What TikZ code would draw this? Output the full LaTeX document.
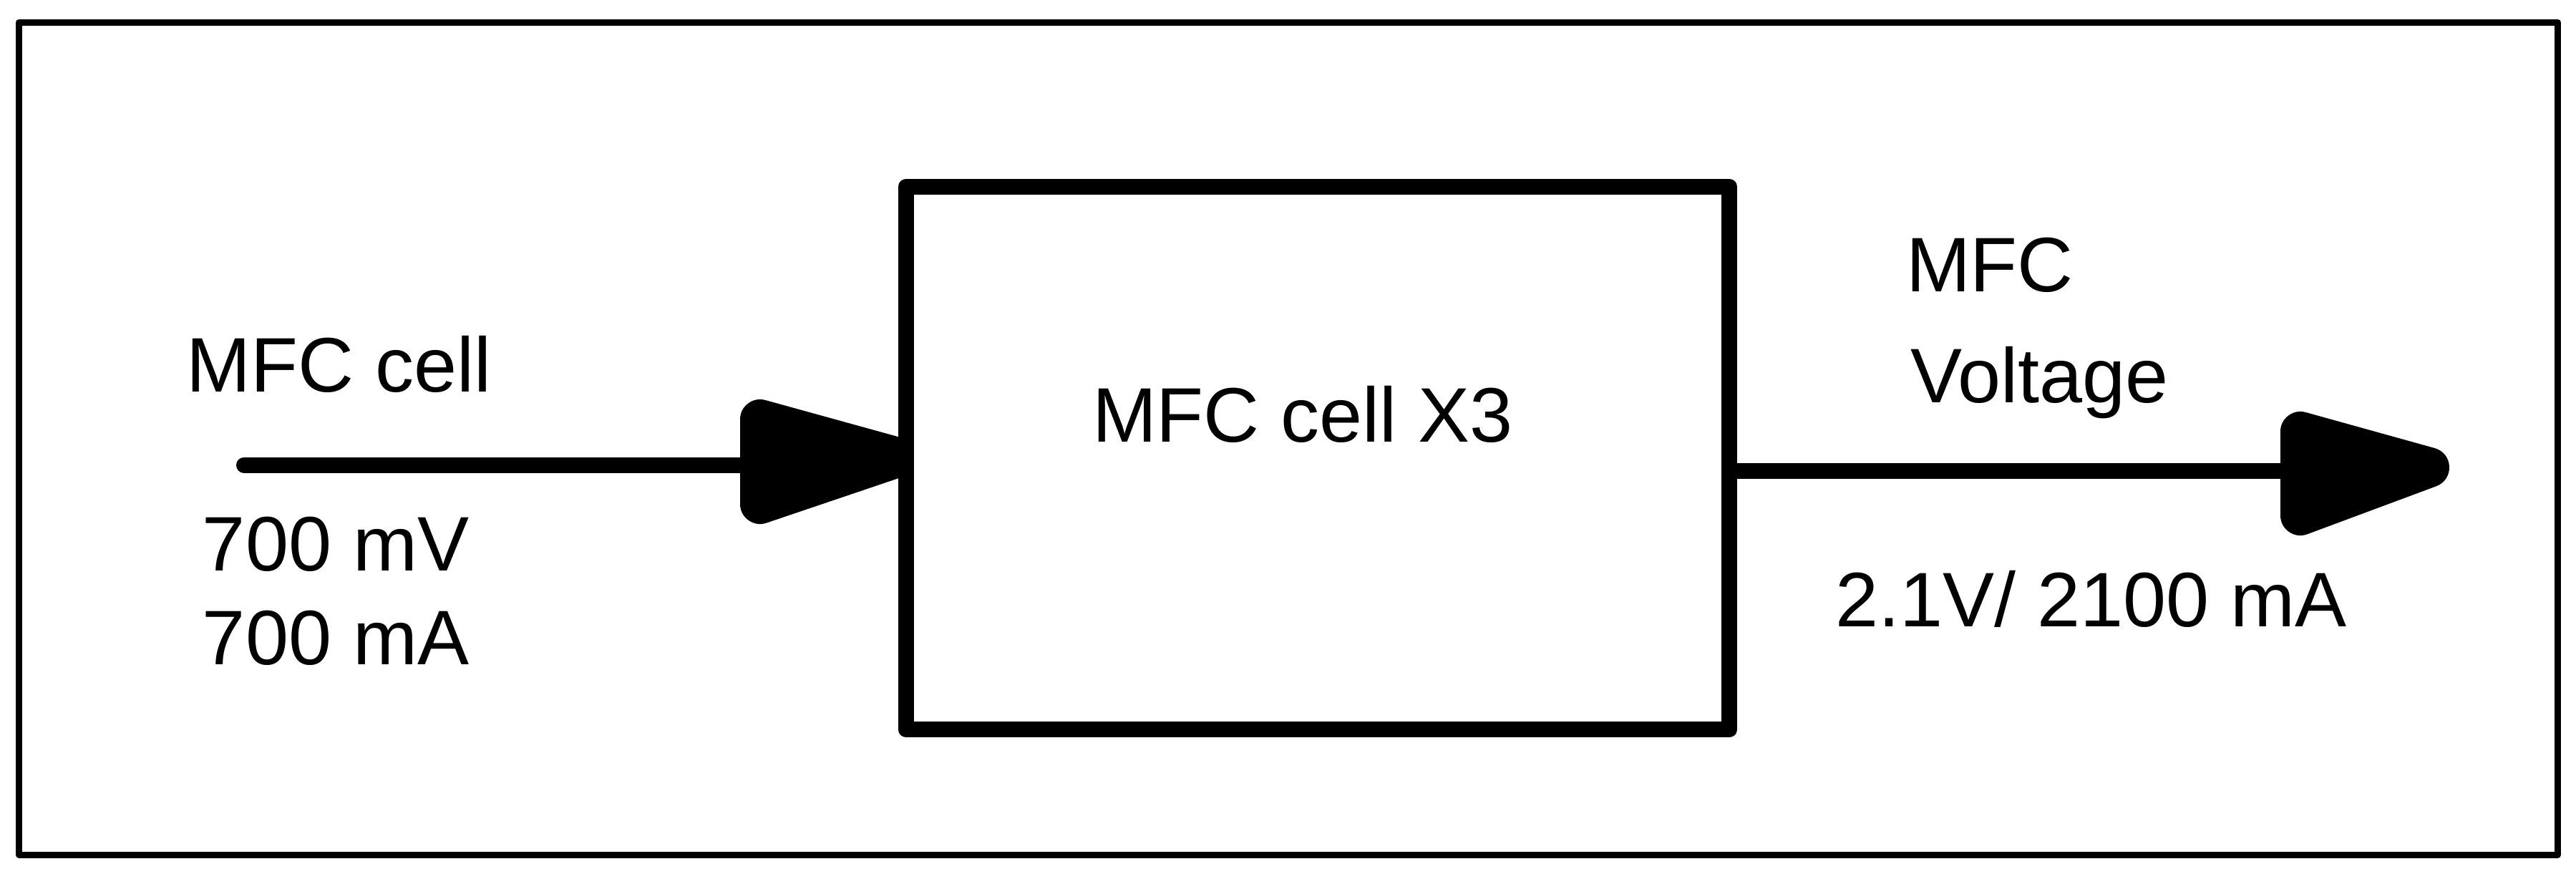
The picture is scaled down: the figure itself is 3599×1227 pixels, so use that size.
\documentclass[tikz,border=0pt]{standalone}
\usepackage{fontspec}
\setmainfont{Liberation Sans}
\begin{document}
\begin{tikzpicture}[x=0.1pt,y=-0.1pt,
  frame/.style={draw=black, line width=0.9pt, line join=round},
  blockbox/.style={draw=black, fill=white, line width=2.2pt, line join=round,
    rectangle, inner sep=0pt, minimum width=115pt, minimum height=75.9pt},
  wire/.style={draw=black, line width=2.2pt, line cap=round},
  headshape/.style={fill=black, draw=black, line width=5.6pt, line join=round},
  lbl/.style={anchor=base west, inner sep=0pt, font=\fontsize{10.8pt}{13pt}\selectfont}]
\useasboundingbox (0,0) rectangle (3599,1227);
\draw[frame] (26.5,31.5) rectangle (3573.5,1194);
% input connector
\coordinate (inL) at (341,649.5);
\coordinate (inH) at (1062,649.5);
\draw[wire] (inL) -- (inH);
\draw[headshape] (1062,586) -- (1062,704) -- (1254,639) -- cycle;
% block
\node[blockbox] (box) at (1841,640) {};
% output connector
\coordinate (outH) at (3214,658);
\draw[wire] (box.east |- outH) -- (outH);
\draw[headshape] (3214,603) -- (3214,720) -- (3394,653) -- cycle;
% labels
\node[lbl] (tin) at (259,547) {MFC cell};
\node[lbl] (tv) at (281,797) {700 mV};
\node[lbl] (ta) at (281,928) {700 mA};
\node[lbl] (tbox) at (1524,617) {MFC cell X3};
\node[lbl] (tmfc) at (2661,407) {MFC};
\node[lbl] (tvolt) at (2667,562) {Voltage};
\node[lbl] (tout) at (2562,875) {2.1V/ 2100 mA};
\end{tikzpicture}
\end{document}
